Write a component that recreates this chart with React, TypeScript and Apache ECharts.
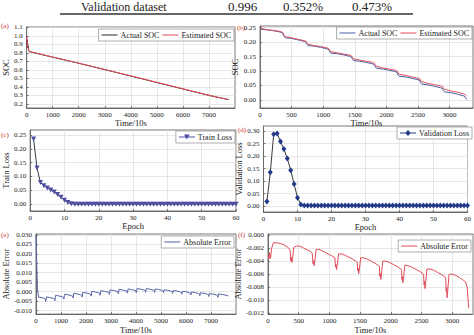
import React, { useEffect, useRef } from 'react';
import * as echarts from 'echarts';

const FONT = '"Liberation Serif", "Times New Roman", serif';

// ---------- (a) validation SOC ----------
const timeA = [0, 15, 30, 45, 60, 80, 100, 1000, 2000, 3000, 4000, 5000, 6000, 7000, 7750];
const actualSocA = [0.99, 0.90, 0.95, 0.86, 0.88, 0.83, 0.815, 0.750, 0.678, 0.603, 0.528, 0.452, 0.376, 0.300, 0.250];
const estSocA = [0.99, 0.92, 0.93, 0.87, 0.86, 0.835, 0.818, 0.752, 0.680, 0.605, 0.530, 0.454, 0.378, 0.302, 0.252];

// ---------- (b) test SOC ----------
const timeB = [0, 100, 200, 300, 360, 375, 400, 500, 600, 700, 730, 745, 760, 860, 960, 1060, 1090, 1105, 1120,
  1220, 1320, 1420, 1450, 1465, 1480, 1580, 1680, 1780, 1810, 1825, 1840, 1940, 2040, 2140, 2170, 2185, 2200,
  2300, 2400, 2500, 2530, 2545, 2560, 2660, 2760, 2860, 2890, 2905, 2920, 3020, 3120, 3220, 3245, 3270];
const actualSocB = [0.245, 0.243, 0.240, 0.236, 0.232, 0.222, 0.215, 0.213, 0.208, 0.203, 0.200, 0.192, 0.188,
  0.186, 0.182, 0.177, 0.174, 0.166, 0.162, 0.160, 0.156, 0.151, 0.148, 0.140, 0.136, 0.134, 0.130, 0.125, 0.122,
  0.114, 0.110, 0.107, 0.103, 0.098, 0.095, 0.086, 0.082, 0.080, 0.075, 0.070, 0.067, 0.058, 0.055, 0.052, 0.047,
  0.042, 0.039, 0.031, 0.028, 0.025, 0.020, 0.014, 0.010, 0.002];
const estSocB = [0.248, 0.244, 0.241, 0.238, 0.234, 0.226, 0.219, 0.215, 0.210, 0.205, 0.203, 0.196, 0.193,
  0.188, 0.185, 0.180, 0.177, 0.171, 0.167, 0.163, 0.159, 0.155, 0.152, 0.145, 0.142, 0.138, 0.134, 0.130, 0.127,
  0.120, 0.117, 0.111, 0.107, 0.103, 0.100, 0.093, 0.089, 0.085, 0.080, 0.075, 0.073, 0.065, 0.063, 0.057, 0.053,
  0.048, 0.046, 0.039, 0.037, 0.031, 0.027, 0.021, 0.018, 0.013];

// ---------- (c) train loss / (d) validation loss per epoch (1..60) ----------
const trainLoss = [0.235, 0.130, 0.078, 0.066, 0.058, 0.051, 0.043, 0.034, 0.024, 0.013, 0.005, 0.001,
  -0.001, -0.001, -0.001, -0.001, -0.001, -0.001, -0.001, -0.001, -0.001, -0.001, -0.001, -0.001,
  -0.001, -0.001, -0.001, -0.001, -0.001, -0.001, -0.001, -0.001, -0.001, -0.001, -0.001, -0.001,
  -0.001, -0.001, -0.001, -0.001, -0.001, -0.001, -0.001, -0.001, -0.001, -0.001, -0.001, -0.001,
  -0.001, -0.001, -0.001, -0.001, -0.001, -0.001, -0.001, -0.001, -0.001, -0.001, -0.001, -0.001];
const valLoss = [0.018, 0.135, 0.287, 0.290, 0.258, 0.228, 0.190, 0.143, 0.088, 0.033, 0.006, 0.002,
  0.002, 0.002, 0.002, 0.002, 0.002, 0.002, 0.002, 0.002, 0.002, 0.002, 0.002, 0.002,
  0.002, 0.002, 0.002, 0.002, 0.002, 0.002, 0.002, 0.002, 0.002, 0.002, 0.002, 0.002,
  0.002, 0.002, 0.002, 0.002, 0.002, 0.002, 0.002, 0.002, 0.002, 0.002, 0.002, 0.002,
  0.002, 0.002, 0.002, 0.002, 0.002, 0.002, 0.002, 0.002, 0.002, 0.002, 0.002, 0.002];

// ---------- (e) absolute error, validation ----------
const timeE = [0, 30, 60, 100, 200, 300, 370, 385, 400,
  420, 550, 700, 740, 752, 765, 780, 920, 1060, 1100, 1112, 1125,
  1140, 1290, 1430, 1470, 1482, 1495, 1510, 1650, 1790, 1830, 1842, 1855,
  1870, 2010, 2150, 2190, 2202, 2215, 2230, 2370, 2510, 2550, 2562, 2575,
  2590, 2740, 2880, 2920, 2932, 2945, 2960, 3100, 3240, 3280, 3292, 3305,
  3320, 3460, 3600, 3640, 3652, 3665, 3680, 3820, 3960, 4000, 4012, 4025,
  4040, 4190, 4330, 4370, 4382, 4395, 4410, 4550, 4690, 4730, 4742, 4755,
  4770, 4910, 5050, 5090, 5102, 5115, 5130, 5270, 5410, 5450, 5462, 5475,
  5490, 5640, 5780, 5820, 5832, 5845, 5860, 6000, 6140, 6180, 6192, 6205,
  6220, 6360, 6500, 6540, 6552, 6565, 6580, 6720, 6860, 6900, 6912, 6925,
  6940, 7080, 7220, 7260, 7272, 7285, 7300, 7450, 7600, 7700];
const errorE = [0.0300, 0.0150, 0.0020, -0.0030, -0.0031, -0.0034, -0.0038, -0.0052, -0.0046,
  -0.0028, -0.0031, -0.0036, -0.0038, -0.0048, -0.0042, -0.0020, -0.0023, -0.0028, -0.0030, -0.0040, -0.0035,
  -0.0014, -0.0017, -0.0022, -0.0024, -0.0034, -0.0029, -0.0009, -0.0012, -0.0017, -0.0019, -0.0029, -0.0024,
  -0.0004, -0.0007, -0.0012, -0.0014, -0.0024, -0.0019, 0.0001, -0.0002, -0.0007, -0.0009, -0.0019, -0.0014,
  0.0005, 0.0002, -0.0003, -0.0005, -0.0015, -0.0010, 0.0009, 0.0006, 0.0001, -0.0001, -0.0011, -0.0006,
  0.0012, 0.0009, 0.0004, 0.0002, -0.0008, -0.0003, 0.0014, 0.0011, 0.0006, 0.0004, -0.0006, -0.0001,
  0.0016, 0.0013, 0.0008, 0.0006, -0.0004, 0.0001, 0.0016, 0.0013, 0.0008, 0.0006, -0.0004, 0.0001,
  0.0014, 0.0011, 0.0006, 0.0004, -0.0006, -0.0001, 0.0010, 0.0007, 0.0002, 0.0000, -0.0010, -0.0005,
  0.0006, 0.0003, -0.0002, -0.0004, -0.0014, -0.0009, 0.0002, -0.0001, -0.0006, -0.0008, -0.0018, -0.0013,
  -0.0002, -0.0005, -0.0010, -0.0012, -0.0022, -0.0017, -0.0006, -0.0009, -0.0014, -0.0016, -0.0026, -0.0021,
  -0.0010, -0.0013, -0.0018, -0.0020, -0.0030, -0.0025, -0.0012, -0.0015, -0.0019, -0.0023];

// ---------- (f) absolute error, test ----------
const timeF = [0, 15, 25, 40, 60, 90, 150, 200, 260, 310, 345, 360, 372, 380, 390, 400,
  420, 460, 520, 580, 640, 690, 720, 735, 743, 752, 762,
  785, 830, 880, 940, 1000, 1060, 1090, 1100, 1108, 1116, 1126,
  1150, 1200, 1260, 1320, 1380, 1430, 1455, 1462, 1470, 1478, 1488,
  1510, 1560, 1620, 1680, 1740, 1790, 1815, 1822, 1830, 1838, 1848,
  1870, 1920, 1980, 2040, 2100, 2150, 2175, 2182, 2190, 2198, 2208,
  2230, 2280, 2340, 2400, 2460, 2510, 2535, 2542, 2550, 2558, 2568,
  2590, 2640, 2700, 2760, 2820, 2870, 2895, 2902, 2910, 2918, 2928,
  2950, 3000, 3060, 3120, 3180, 3220, 3245, 3270];
const errorF = [-0.0031, -0.0036, -0.0027, -0.0036, -0.0020, -0.0012, -0.0012, -0.0013, -0.0015, -0.0018, -0.0021, -0.0024, -0.0040, -0.0034, -0.0042, -0.0036,
  -0.0019, -0.0017, -0.0017, -0.0020, -0.0023, -0.0025, -0.0028, -0.0044, -0.0039, -0.0047, -0.0041,
  -0.0022, -0.0022, -0.0024, -0.0027, -0.0030, -0.0033, -0.0035, -0.0049, -0.0045, -0.0053, -0.0047,
  -0.0029, -0.0029, -0.0031, -0.0034, -0.0037, -0.0040, -0.0042, -0.0055, -0.0051, -0.0059, -0.0053,
  -0.0035, -0.0035, -0.0037, -0.0040, -0.0043, -0.0046, -0.0048, -0.0063, -0.0059, -0.0068, -0.0061,
  -0.0040, -0.0040, -0.0042, -0.0045, -0.0048, -0.0051, -0.0053, -0.0068, -0.0064, -0.0073, -0.0066,
  -0.0046, -0.0047, -0.0049, -0.0052, -0.0055, -0.0058, -0.0060, -0.0076, -0.0071, -0.0082, -0.0074,
  -0.0052, -0.0052, -0.0054, -0.0057, -0.0060, -0.0063, -0.0066, -0.0086, -0.0080, -0.0096, -0.0085,
  -0.0060, -0.0060, -0.0062, -0.0065, -0.0069, -0.0072, -0.0080, -0.0112];

// ---------- tick values ----------
const ticksXA = [0, 1000, 2000, 3000, 4000, 5000, 6000, 7000];
const ticksYA = [0.2, 0.3, 0.4, 0.5, 0.6, 0.7, 0.8, 0.9, 1.0, 1.1];
const ticksXB = [0, 500, 1000, 1500, 2000, 2500, 3000];
const ticksYB = [0, 0.05, 0.10, 0.15, 0.20, 0.25];
const ticksEpoch = [0, 10, 20, 30, 40, 50, 60];
const ticksYC = [0, 0.05, 0.10, 0.15, 0.20, 0.25];
const ticksYD = [0, 0.05, 0.10, 0.15, 0.20, 0.25, 0.30];
const ticksYE = [-0.010, -0.005, 0, 0.005, 0.010, 0.015, 0.020, 0.025, 0.030];
const ticksYF = [-0.012, -0.010, -0.008, -0.006, -0.004, -0.002, 0];

// ---------- table header ----------
const tableRow = ['Validation dataset', '0.996', '0.352%', '0.473%'];
const tableX = [81, 228, 283, 352];
const tableSize = [12, 13, 13, 13];
const panelLetters = ['(a)', '(b)', '(c)', '(d)', '(e)', '(f)'];

const zip = (xs: number[], ys: number[]) => {
  const n = Math.min(xs.length, ys.length);
  const out: number[][] = [];
  for (let i = 0; i < n; i++) out.push([xs[i], ys[i]]);
  return out;
};

const TXT = '#222';
const AX = '#555';

// legend icons (bounding box 0..16 x 0..6 is fixed by tiny corner sub-paths)
const BOX = 'M0,0 L0.05,0 L0.05,0.05 Z M15.95,5.95 L16,5.95 L16,6 Z ';
const ICON_LINE = 'path://' + BOX + 'M0,2.55 L16,2.55 L16,3.45 L0,3.45 Z';
const ICON_TRI = 'path://' + BOX + 'M0,2.55 L16,2.55 L16,3.45 L0,3.45 Z M5.2,0.6 L10.8,0.6 L8,5.6 Z';
const ICON_DIA = 'path://' + BOX + 'M0,2.55 L16,2.55 L16,3.45 L0,3.45 Z M8,0 L10.8,3 L8,6 L5.2,3 Z';

function xAxis(gi: number, max: number, ticks: number[], name: string, nameGap: number) {
  return {
    type: 'value', gridIndex: gi, min: 0, max,
    name, nameLocation: 'middle', nameGap,
    nameTextStyle: { fontFamily: FONT, fontSize: 8.5, color: TXT },
    axisLine: { show: true, onZero: false, lineStyle: { color: AX, width: 0.8 } },
    axisTick: { show: true, inside: true, length: 2, customValues: ticks, lineStyle: { color: AX, width: 0.8 } },
    axisLabel: { customValues: ticks, fontFamily: FONT, fontSize: 7, color: TXT, margin: 3, formatter: (v: number) => String(v) },
    splitLine: { show: true, lineStyle: { color: '#dcdcdc', width: 0.7 } },
  };
}

function yAxis(gi: number, min: number, max: number, ticks: number[], dec: number, name: string, nameGap: number) {
  return {
    type: 'value', gridIndex: gi, min, max,
    name, nameLocation: 'middle', nameGap,
    nameTextStyle: { fontFamily: FONT, fontSize: 8.5, color: TXT },
    axisLine: { show: true, onZero: false, lineStyle: { color: AX, width: 0.8 } },
    axisTick: { show: true, inside: true, length: 2, customValues: ticks, lineStyle: { color: AX, width: 0.8 } },
    axisLabel: { customValues: ticks, fontFamily: FONT, fontSize: 7, color: TXT, margin: 4, formatter: (v: number) => v.toFixed(dec) },
    splitLine: { show: true, lineStyle: { color: '#dcdcdc', width: 0.7 } },
  };
}

const labels: Record<string, string> = {
  a_act: 'Actual SOC', a_est: 'Estimated SOC',
  b_act: 'Actual SOC', b_est: 'Estimated SOC',
  c_loss: 'Train Loss', d_loss: 'Validation Loss',
  e_err: 'Absolute Error', f_err: 'Absolute Error',
};

function legend(names: string[], icon: string, pos: { right: number; top: number }) {
  return {
    data: names.map((n) => ({ name: n, icon })),
    formatter: (n: string) => labels[n],
    right: pos.right, top: pos.top,
    orient: 'horizontal',
    itemWidth: 16, itemHeight: 6, itemGap: 3,
    padding: [2, 3],
    backgroundColor: '#fff', borderColor: '#999', borderWidth: 0.8, borderRadius: 0,
    selectedMode: false,
    textStyle: { fontFamily: FONT, fontSize: 8, color: TXT, padding: [0, 0, 0, -2] },
  };
}

export default function App() {
  const ref = useRef<HTMLDivElement>(null);
  useEffect(() => {
    if (!ref.current) return;
    const chart = echarts.init(ref.current, undefined, { renderer: 'svg' });
    const grid = (left: number, top: number, width: number, height: number) => ({
      left, top, width, height, show: true, borderColor: AX, borderWidth: 0.8, backgroundColor: 'transparent',
    });
    const letterPos = [[1, 26], [237, 28], [1, 135], [238, 130], [1, 235], [238, 235]];
    const option: any = {
      animation: false,
      backgroundColor: '#fff',
      grid: [
        grid(25, 27, 210, 81),
        grid(260, 26, 213, 82),
        grid(24, 130, 212, 81),
        grid(263.5, 126, 209.5, 86),
        grid(30.5, 234, 205.5, 83),
        grid(268, 234, 205, 84),
      ],
      xAxis: [
        xAxis(0, 8000, ticksXA, 'Time/10s', 10),
        xAxis(1, 3370, ticksXB, 'Time/10s', 9),
        xAxis(2, 60, ticksEpoch, 'Epoch', 9),
        xAxis(3, 60, ticksEpoch, 'Epoch', 8),
        xAxis(4, 8000, ticksXA, 'Time/10s', 7),
        xAxis(5, 3340, ticksXB, 'Time/10s', 7),
      ],
      yAxis: [
        yAxis(0, 0.152, 1.105, ticksYA, 1, 'SOC', 12),
        yAxis(1, -0.028, 0.256, ticksYB, 2, 'SOC', 16),
        yAxis(2, -0.0255, 0.268, ticksYC, 2, 'Train Loss', 15),
        yAxis(3, -0.024, 0.32, ticksYD, 2, 'Validation Loss', 14),
        yAxis(4, -0.0119, 0.0305, ticksYE, 3, 'Absolute Error', 21),
        yAxis(5, -0.0121, 0.00015, ticksYF, 3, 'Absolute Error', 18),
      ],
      legend: [
        legend(['a_act', 'a_est'], ICON_LINE, { right: 240, top: 29 }),
        legend(['b_act', 'b_est'], ICON_LINE, { right: 2, top: 27 }),
        legend(['c_loss'], ICON_TRI, { right: 239, top: 131 }),
        legend(['d_loss'], ICON_DIA, { right: 2, top: 127 }),
        legend(['e_err'], ICON_LINE, { right: 240, top: 236 }),
        legend(['f_err'], ICON_LINE, { right: 3, top: 240 }),
      ],
      series: [
        { type: 'line', name: 'a_act', xAxisIndex: 0, yAxisIndex: 0, data: zip(timeA, actualSocA), symbol: 'none',
          lineStyle: { color: '#2b2b2b', width: 1 }, itemStyle: { color: '#2b2b2b' } },
        { type: 'line', name: 'a_est', xAxisIndex: 0, yAxisIndex: 0, data: zip(timeA, estSocA), symbol: 'none',
          lineStyle: { color: '#e8505b', width: 1 }, itemStyle: { color: '#e8505b' } },
        { type: 'line', name: 'b_act', xAxisIndex: 1, yAxisIndex: 1, data: zip(timeB, actualSocB), symbol: 'none',
          lineStyle: { color: '#4c5fa8', width: 1 }, itemStyle: { color: '#4c5fa8' } },
        { type: 'line', name: 'b_est', xAxisIndex: 1, yAxisIndex: 1, data: zip(timeB, estSocB), symbol: 'none',
          lineStyle: { color: '#e0505b', width: 1 }, itemStyle: { color: '#e0505b' } },
        { type: 'line', name: 'c_loss', xAxisIndex: 2, yAxisIndex: 2, data: trainLoss.map((v, i) => [i + 1, v]),
          symbol: 'path://M0,0 L10,0 L5,9 Z', symbolSize: [5, 5], showAllSymbol: true,
          lineStyle: { color: '#3a3a4a', width: 1 }, itemStyle: { color: '#4d4ea3' } },
        { type: 'line', name: 'd_loss', xAxisIndex: 3, yAxisIndex: 3, data: valLoss.map((v, i) => [i + 1, v]),
          symbol: 'diamond', symbolSize: [5, 6], showAllSymbol: true,
          lineStyle: { color: '#3a3a3a', width: 1 }, itemStyle: { color: '#23398a' } },
        { type: 'line', name: 'e_err', xAxisIndex: 4, yAxisIndex: 4, data: zip(timeE, errorE), symbol: 'none',
          lineStyle: { color: '#5865a6', width: 1 }, itemStyle: { color: '#5865a6' } },
        { type: 'line', name: 'f_err', xAxisIndex: 5, yAxisIndex: 5, data: zip(timeF, errorF), symbol: 'none',
          lineStyle: { color: '#e04c58', width: 1 }, itemStyle: { color: '#e04c58' } },
      ],
      graphic: [
        ...tableRow.map((t, i) => ({
          type: 'text', x: tableX[i], y: 12.5,
          style: { text: t, fontFamily: FONT, fontSize: tableSize[i], fill: '#222', textVerticalAlign: 'bottom' },
        })),
        { type: 'line', shape: { x1: 60, y1: 14, x2: 413, y2: 14 }, style: { stroke: '#333', lineWidth: 1.5 } },
        ...panelLetters.map((t, i) => ({
          type: 'text', x: letterPos[i][0], y: letterPos[i][1],
          style: { text: t, fontFamily: FONT, fontSize: 7, fill: '#c8322d', textVerticalAlign: 'middle' },
        })),
      ],
    };
    chart.setOption(option);
    return () => chart.dispose();
  }, []);
  return <div ref={ref} style={{ position: 'absolute', left: 0, top: 0, width: 474, height: 335 }} />;
}
